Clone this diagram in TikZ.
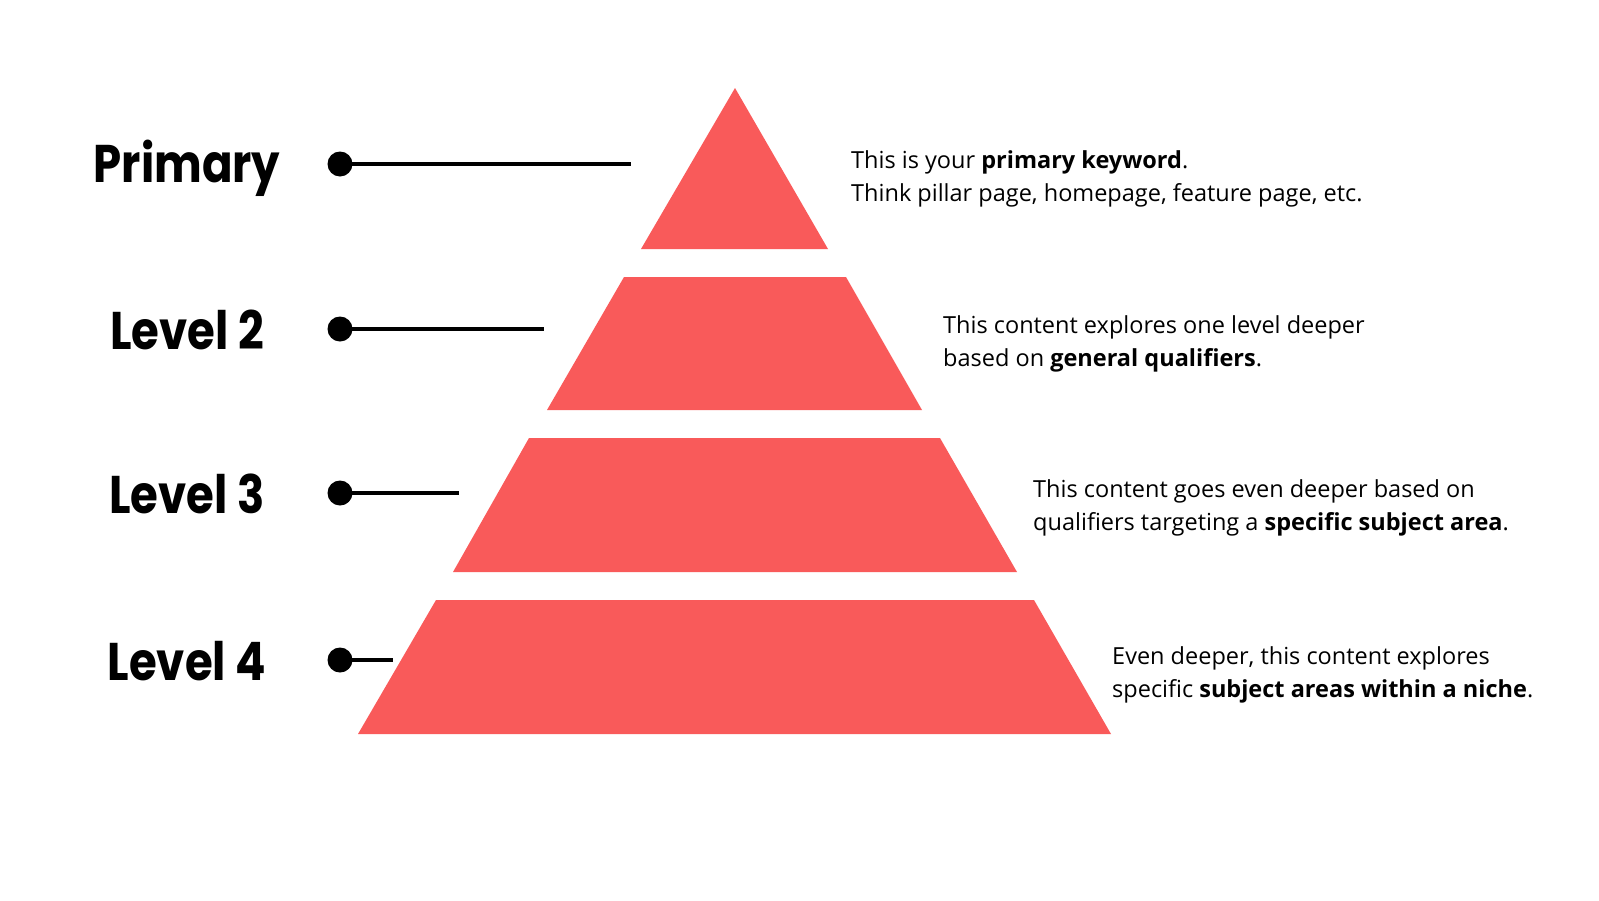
\documentclass[tikz,border=0pt]{standalone}
\usepackage{fontspec}
\setmainfont{Open Sans}
\newfontfamily\headfont{Poppins}[FakeStretch=0.85]
\definecolor{pyr}{HTML}{F95A5A}
\begin{document}
\begin{tikzpicture}[x=1pt,y=-1pt,
  tier/.style={fill=pyr,draw=none},
  lvl/.style={font=\headfont\fontsize{53}{58}\selectfont\bfseries,anchor=center},
  desc/.style={font=\fontsize{23.5}{33}\selectfont,anchor=west,align=left,inner sep=0pt},
  dot/.style={circle,fill=black,minimum size=25,inner sep=0},
  conn/.style={line width=3.5pt}]
\useasboundingbox (0,0) rectangle (1599,900);
\fill[tier] (735,88) -- (828,249) -- (641,249) -- cycle;
\fill[tier] (624,277) -- (846,277) -- (922,410) -- (547,410) -- cycle;
\fill[tier] (529,438) -- (940,438) -- (1017,572) -- (453,572) -- cycle;
\fill[tier] (436,600) -- (1034,600) -- (1111,734) -- (358,734) -- cycle;
\node[lvl] (l1) at (187,168) {Primary};
\node[lvl] (l2) at (187,330) {Level 2};
\node[lvl] (l3) at (187,494) {Level 3};
\node[lvl] (l4) at (187,661) {Level 4};
\node[dot] (d1) at (340,164) {};
\node[dot] (d2) at (340,329) {};
\node[dot] (d3) at (340,493) {};
\node[dot] (d4) at (340,660) {};
\coordinate (e1) at (631,164);
\coordinate (e2) at (544,329);
\coordinate (e3) at (459,493);
\coordinate (e4) at (393,660);
\draw[conn] (d1.center) -- (e1);
\draw[conn] (d2.center) -- (e2);
\draw[conn] (d3.center) -- (e3);
\draw[conn] (d4.center) -- (e4);
\node[desc] (t1) at (851,179) {This is your \textbf{primary keyword}.\\Think pillar page, homepage, feature page, etc.};
\node[desc] (t2) at (943,344) {This content explores one level deeper\\based on \textbf{general qualifiers}.};
\node[desc] (t3) at (1033,508) {This content goes even deeper based on\\qualifiers targeting a \textbf{specific subject area}.};
\node[desc] (t4) at (1112,675) {Even deeper, this content explores\\specific \textbf{subject areas within a niche}.};
\end{tikzpicture}
\end{document}
